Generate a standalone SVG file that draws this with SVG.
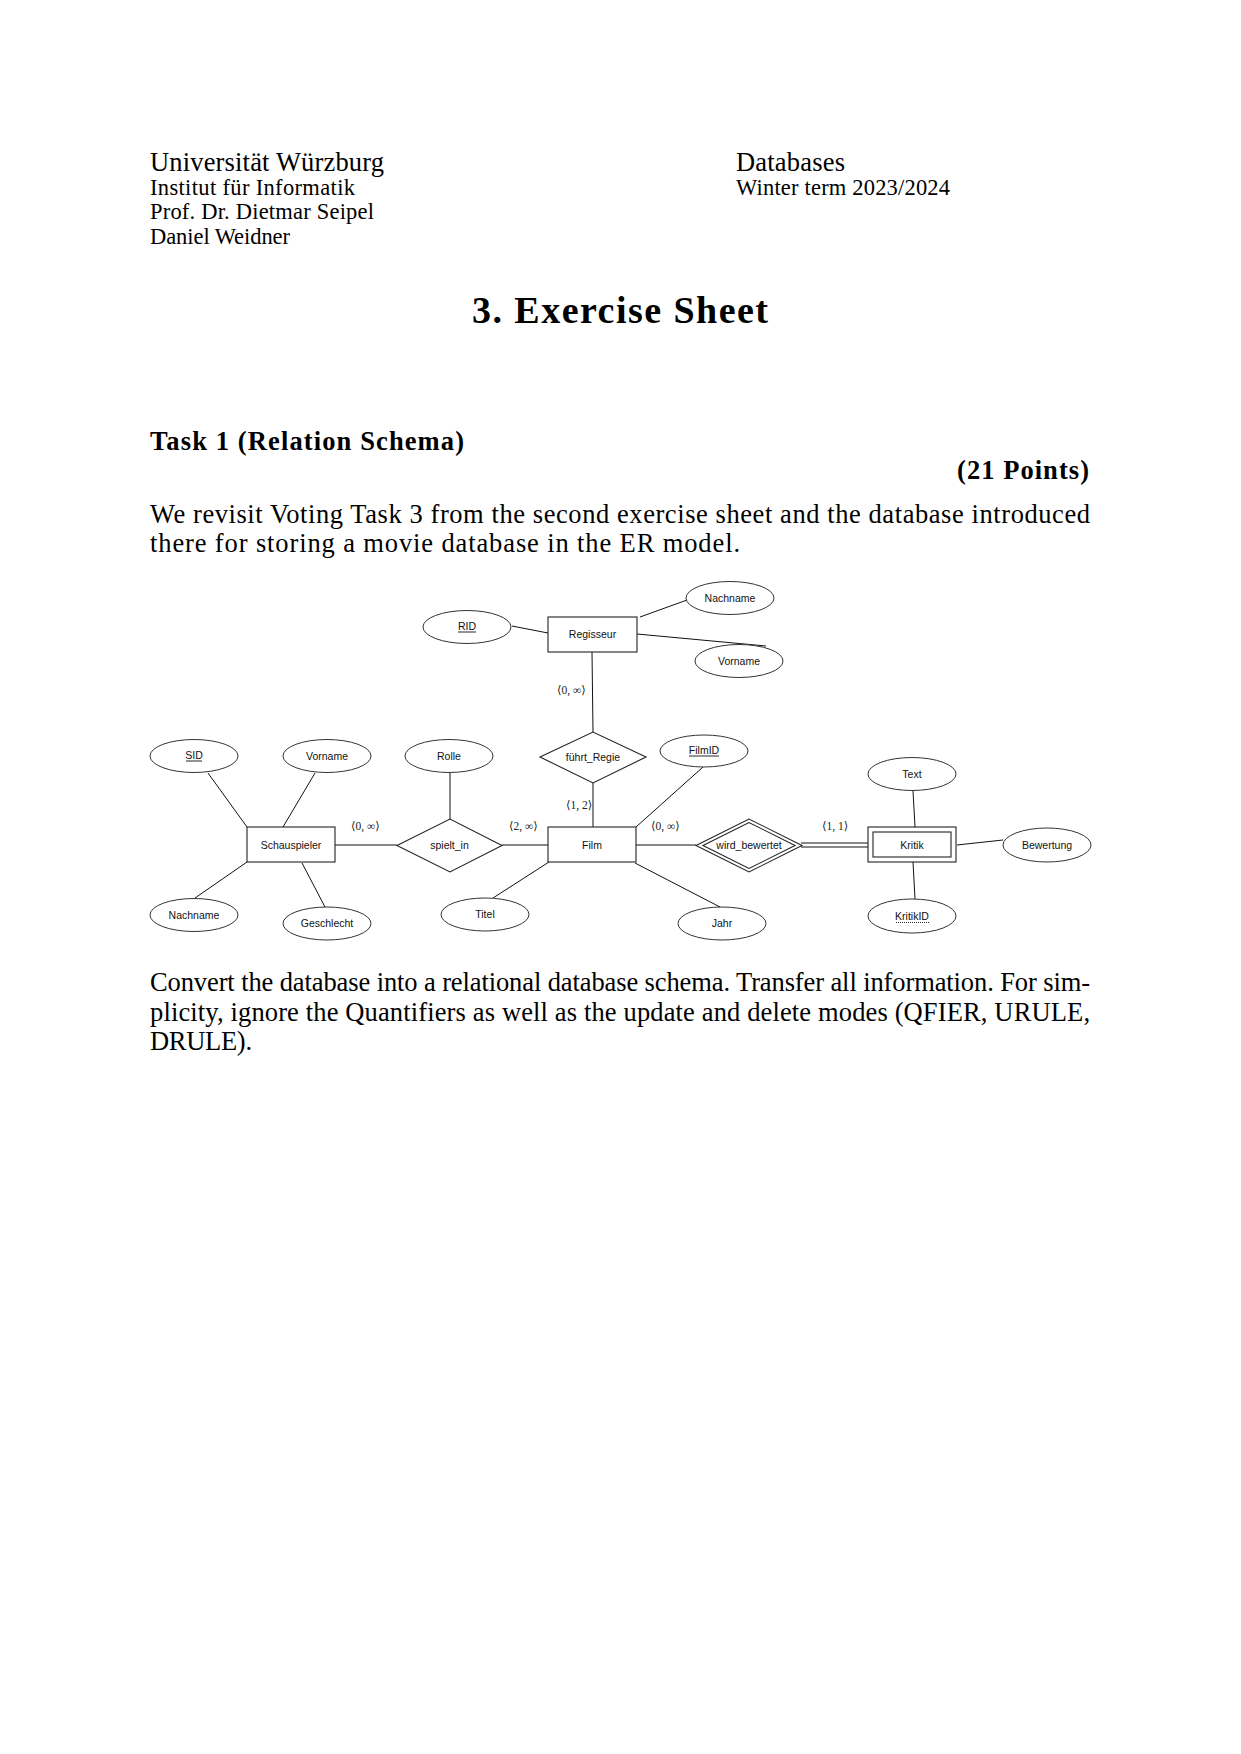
<svg xmlns="http://www.w3.org/2000/svg" width="1241" height="1754" viewBox="0 0 1241 1754">
<style>
.page{font-family:"Liberation Serif","DejaVu Serif",serif;fill:#000}
.big{font-size:26.5px}
.sm{font-size:22.5px}
.b{font-weight:bold}
.ttl{font-size:38px;font-weight:bold}
.shape{fill:#fff;stroke:#222;stroke-width:1.1}
.ell{fill:#fff;stroke:#333;stroke-width:1}
.lbl{font-family:"Liberation Sans",Arial,sans-serif;font-size:10.5px;fill:#111;text-anchor:middle}
.card{font-family:"Liberation Serif","DejaVu Serif",serif;font-size:11.5px;fill:#222}
.edge{stroke:#111;stroke-width:1;fill:none}
.ul{stroke:#111;stroke-width:0.9}
.dul{stroke:#111;stroke-width:0.9;stroke-dasharray:1,1}
</style>
<rect width="1241" height="1754" fill="#fff"/>
<g id="page-text" class="page">
<text class="big" x="150" y="171" textLength="234">Universität Würzburg</text>
<text class="sm" x="150" y="195" textLength="205">Institut für Informatik</text>
<text class="sm" x="150" y="219" textLength="224">Prof. Dr. Dietmar Seipel</text>
<text class="sm" x="150" y="244" textLength="140">Daniel Weidner</text>
<text class="big" x="736" y="171" textLength="109">Databases</text>
<text class="sm" x="736" y="195" textLength="214">Winter term 2023/2024</text>
<text class="ttl" x="472" y="323" textLength="296">3. Exercise Sheet</text>
<text class="big b" x="150" y="450" textLength="314">Task 1 (Relation Schema)</text>
<text class="big b" x="957" y="479" textLength="132">(21 Points)</text>
<text class="big" x="150" y="523" textLength="940">We revisit Voting Task 3 from the second exercise sheet and the database introduced</text>
<text class="big" x="150" y="552" textLength="590">there for storing a movie database in the ER model.</text>
<text class="big" x="150" y="991" textLength="940">Convert the database into a relational database schema. Transfer all information. For sim-</text>
<text class="big" x="150" y="1021" textLength="940">plicity, ignore the Quantifiers as well as the update and delete modes (QFIER, URULE,</text>
<text class="big" x="150" y="1050" textLength="102">DRULE).</text>
</g>
<g id="connectors">
<line class="edge" x1="512" y1="626" x2="548" y2="633"/>
<line class="edge" x1="640" y1="617" x2="687" y2="600"/>
<line class="edge" x1="637" y1="634" x2="766" y2="646"/>
<line class="edge" x1="592" y1="652" x2="593" y2="732"/>
<line class="edge" x1="593" y1="783" x2="593" y2="827"/>
<line class="edge" x1="703" y1="767" x2="636" y2="827"/>
<line class="edge" x1="208" y1="773" x2="247" y2="827"/>
<line class="edge" x1="315" y1="773" x2="283" y2="827"/>
<line class="edge" x1="247" y1="862" x2="195" y2="898"/>
<line class="edge" x1="302" y1="863" x2="325" y2="907"/>
<line class="edge" x1="335" y1="845" x2="397" y2="845"/>
<line class="edge" x1="450" y1="773" x2="450" y2="819"/>
<line class="edge" x1="502" y1="845" x2="548" y2="845"/>
<line class="edge" x1="549" y1="862" x2="493" y2="898"/>
<line class="edge" x1="635" y1="863" x2="720" y2="907"/>
<line class="edge" x1="636" y1="845" x2="696" y2="845"/>
<line class="edge" x1="801" y1="843" x2="868" y2="843"/>
<line class="edge" x1="801" y1="847" x2="868" y2="847"/>
<line class="edge" x1="913" y1="791" x2="915" y2="827"/>
<line class="edge" x1="913" y1="862" x2="915" y2="899"/>
<line class="edge" x1="957" y1="845" x2="1003" y2="840"/>
<text class="card" x="557" y="694">⟨0, ∞⟩</text>
<text class="card" x="566" y="809">⟨1, 2⟩</text>
<text class="card" x="351" y="830">⟨0, ∞⟩</text>
<text class="card" x="509" y="830">⟨2, ∞⟩</text>
<text class="card" x="651" y="830">⟨0, ∞⟩</text>
<text class="card" x="822" y="830">⟨1, 1⟩</text>
</g>
<g id="Regisseur"><rect class="shape" x="548" y="617" width="89" height="35"/><text class="lbl" x="592.5" y="638">Regisseur</text></g>
<g id="RID"><ellipse class="ell" cx="467" cy="627" rx="44" ry="16.5"/><text class="lbl" x="467" y="630">RID</text><line class="ul" x1="458" y1="632" x2="476" y2="632"/></g>
<g id="Regisseur-Nachname"><ellipse class="ell" cx="730" cy="598" rx="44" ry="16.5"/><text class="lbl" x="730" y="601.5">Nachname</text></g>
<g id="Regisseur-Vorname"><ellipse class="ell" cx="739" cy="661" rx="44" ry="16.5"/><text class="lbl" x="739" y="664.5">Vorname</text></g>
<g id="fuehrt_Regie"><polygon class="shape" points="540,757 593,732 646,757 593,783"/><text class="lbl" x="593" y="760.5">führt_Regie</text></g>
<g id="FilmID"><ellipse class="ell" cx="704" cy="751" rx="44" ry="16"/><text class="lbl" x="704" y="754">FilmID</text><line class="ul" x1="689" y1="756" x2="719" y2="756"/></g>
<g id="SID"><ellipse class="ell" cx="194" cy="756" rx="44" ry="16.5"/><text class="lbl" x="194" y="759">SID</text><line class="ul" x1="186" y1="761" x2="202" y2="761"/></g>
<g id="Schauspieler-Vorname"><ellipse class="ell" cx="327" cy="756" rx="44" ry="16.5"/><text class="lbl" x="327" y="759.5">Vorname</text></g>
<g id="Rolle"><ellipse class="ell" cx="449" cy="756" rx="44" ry="16.5"/><text class="lbl" x="449" y="759.5">Rolle</text></g>
<g id="Schauspieler"><rect class="shape" x="247" y="827" width="88" height="35"/><text class="lbl" x="291" y="848.5">Schauspieler</text></g>
<g id="spielt_in"><polygon class="shape" points="397,845.5 450,819 502,845.5 450,872"/><text class="lbl" x="449.5" y="849">spielt_in</text></g>
<g id="Film"><rect class="shape" x="548" y="827" width="88" height="35"/><text class="lbl" x="592" y="848.5">Film</text></g>
<g id="wird_bewertet"><polygon class="shape" points="696,845.5 749,819 802,845.5 749,872"/><polygon class="shape" points="703,845.5 749,822.5 795,845.5 749,868.5"/><text class="lbl" x="749" y="849">wird_bewertet</text></g>
<g id="Kritik"><rect class="shape" x="868" y="827" width="88" height="35"/><rect class="shape" x="873" y="832" width="78" height="25"/><text class="lbl" x="912" y="848.5">Kritik</text></g>
<g id="Text"><ellipse class="ell" cx="912" cy="774" rx="44" ry="16.5"/><text class="lbl" x="912" y="777.5">Text</text></g>
<g id="Bewertung"><ellipse class="ell" cx="1047" cy="845" rx="44" ry="17"/><text class="lbl" x="1047" y="848.5">Bewertung</text></g>
<g id="KritikID"><ellipse class="ell" cx="912" cy="916" rx="44" ry="17"/><text class="lbl" x="912" y="919.5">KritikID</text><line class="dul" x1="896" y1="922.5" x2="929" y2="922.5"/></g>
<g id="Schauspieler-Nachname"><ellipse class="ell" cx="194" cy="915" rx="44" ry="16.5"/><text class="lbl" x="194" y="918.5">Nachname</text></g>
<g id="Geschlecht"><ellipse class="ell" cx="327" cy="923.5" rx="44" ry="16.5"/><text class="lbl" x="327" y="927">Geschlecht</text></g>
<g id="Titel"><ellipse class="ell" cx="485" cy="914.5" rx="44" ry="16.5"/><text class="lbl" x="485" y="918">Titel</text></g>
<g id="Jahr"><ellipse class="ell" cx="722" cy="923.5" rx="44" ry="16.5"/><text class="lbl" x="722" y="927">Jahr</text></g>
</svg>
